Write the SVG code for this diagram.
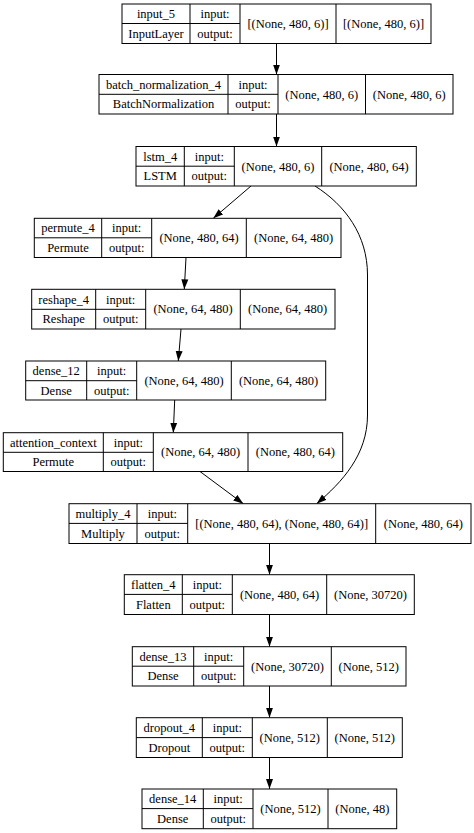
<svg xmlns="http://www.w3.org/2000/svg" width="474" height="833" viewBox="0 0 474 833">
<style>
.b{fill:#fff;stroke:#000;stroke-width:1}
.l{stroke:#000;stroke-width:1;fill:none}
text{font-family:"Liberation Serif","Times New Roman",serif;font-size:12.5px;fill:#000;text-anchor:middle}
.e{stroke:#000;stroke-width:1;fill:none;marker-end:url(#ah)}
</style>
<defs>
<marker id="ah" markerUnits="userSpaceOnUse" markerWidth="10" markerHeight="8" refX="10" refY="4" orient="auto">
<path d="M0,0.5 L10,4 L0,7.5 z" fill="#000"/>
</marker>
</defs>
<rect width="474" height="833" fill="#fff"/>
<g id="connectors">
<path class="e" d="M276.5,43.5 L276.5,74.5"/>
<path class="e" d="M276.5,114 L276.5,146.5"/>
<path class="e" d="M251,186 L213.3,218.3"/>
<path class="e" d="M186,257.5 L184.3,289.3"/>
<path class="e" d="M181,329 L178.3,361"/>
<path class="e" d="M174.7,400 L173.3,432.7"/>
<path class="e" d="M200,471.5 L243.3,503.7"/>
<path class="e" d="M315,186 C345,205 367.5,235 367.5,275 L367.5,415 C367.5,455 342,482 316.7,503.7"/>
<path class="e" d="M269.5,543.5 L269.5,574.7"/>
<path class="e" d="M269.5,614.5 L269.5,646.7"/>
<path class="e" d="M269.5,686 L269.5,717.7"/>
<path class="e" d="M269.5,757.5 L269.5,789"/>
</g>
<g id="input_5">
<rect class="b" x="122" y="4" width="309" height="39.5"/>
<path class="l" d="M190,4 V43.5 M240,4 V43.5 M336,4 V43.5 M122,23.5 H240"/>
<text x="156" y="18">input_5</text><text x="156" y="37.8">InputLayer</text>
<text x="215" y="18">input:</text><text x="215" y="37.8">output:</text>
<text x="288" y="28">[(None, 480, 6)]</text><text x="383.5" y="28">[(None, 480, 6)]</text>
</g>
<g id="batch_normalization_4">
<rect class="b" x="99" y="74.5" width="354" height="39.5"/>
<path class="l" d="M228,74.5 V114 M278,74.5 V114 M365.5,74.5 V114 M99,94.3 H278"/>
<text x="163.5" y="88.7">batch_normalization_4</text><text x="163.5" y="108.4">BatchNormalization</text>
<text x="253" y="88.7">input:</text><text x="253" y="108.4">output:</text>
<text x="321.8" y="98.6">(None, 480, 6)</text><text x="409.3" y="98.6">(None, 480, 6)</text>
</g>
<g id="lstm_4">
<rect class="b" x="136" y="146.5" width="280.3" height="39.5"/>
<path class="l" d="M184.3,146.5 V186 M234.3,146.5 V186 M321.7,146.5 V186 M136,166.2 H234.3"/>
<text x="160.2" y="160.7">lstm_4</text><text x="160.2" y="180.4">LSTM</text>
<text x="209.3" y="160.7">input:</text><text x="209.3" y="180.4">output:</text>
<text x="278" y="170.6">(None, 480, 6)</text><text x="369" y="170.6">(None, 480, 64)</text>
</g>
<g id="permute_4">
<rect class="b" x="34.3" y="218.3" width="306.7" height="39.2"/>
<path class="l" d="M101.7,218.3 V257.5 M151.7,218.3 V257.5 M246.3,218.3 V257.5 M34.3,237.8 H151.7"/>
<text x="68" y="232.3">permute_4</text><text x="68" y="252">Permute</text>
<text x="126.7" y="232.3">input:</text><text x="126.7" y="252">output:</text>
<text x="199" y="242.2">(None, 480, 64)</text><text x="293.7" y="242.2">(None, 64, 480)</text>
</g>
<g id="reshape_4">
<rect class="b" x="31.7" y="289.3" width="303.3" height="39.7"/>
<path class="l" d="M95.7,289.3 V329 M145.7,289.3 V329 M240.3,289.3 V329 M31.7,309.3 H145.7"/>
<text x="63.7" y="303.6">reshape_4</text><text x="63.7" y="323.4">Reshape</text>
<text x="120.7" y="303.6">input:</text><text x="120.7" y="323.4">output:</text>
<text x="193" y="313.4">(None, 64, 480)</text><text x="287.7" y="313.4">(None, 64, 480)</text>
</g>
<g id="dense_12">
<rect class="b" x="25.7" y="361" width="300" height="39"/>
<path class="l" d="M86.7,361 V400 M136.7,361 V400 M231.3,361 V400 M25.7,380.7 H136.7"/>
<text x="56.2" y="375.1">dense_12</text><text x="56.2" y="394.6">Dense</text>
<text x="111.7" y="375.1">input:</text><text x="111.7" y="394.6">output:</text>
<text x="184" y="384.8">(None, 64, 480)</text><text x="278.5" y="384.8">(None, 64, 480)</text>
</g>
<g id="attention_context">
<rect class="b" x="3.3" y="432.7" width="339.4" height="38.8"/>
<path class="l" d="M103.3,432.7 V471.5 M153.3,432.7 V471.5 M248,432.7 V471.5 M3.3,452.3 H153.3"/>
<text x="53.3" y="446.8">attention_context</text><text x="53.3" y="466.2">Permute</text>
<text x="128.3" y="446.8">input:</text><text x="128.3" y="466.2">output:</text>
<text x="200.7" y="456.4">(None, 64, 480)</text><text x="295.3" y="456.4">(None, 480, 64)</text>
</g>
<g id="multiply_4">
<rect class="b" x="69" y="503.7" width="402" height="39.8"/>
<path class="l" d="M137,503.7 V543.5 M187.7,503.7 V543.5 M375.7,503.7 V543.5 M69,523.4 H187.7"/>
<text x="103" y="517.9">multiply_4</text><text x="103" y="537.7">Multiply</text>
<text x="162.3" y="517.9">input:</text><text x="162.3" y="537.7">output:</text>
<text x="281.7" y="527.9">[(None, 480, 64), (None, 480, 64)]</text><text x="423.3" y="527.9">(None, 480, 64)</text>
</g>
<g id="flatten_4">
<rect class="b" x="124.3" y="574.7" width="290" height="39.8"/>
<path class="l" d="M182.3,574.7 V614.5 M232.3,574.7 V614.5 M326.7,574.7 V614.5 M124.3,594.4 H232.3"/>
<text x="153.3" y="588.9">flatten_4</text><text x="153.3" y="608.7">Flatten</text>
<text x="207.3" y="588.9">input:</text><text x="207.3" y="608.7">output:</text>
<text x="279.5" y="598.9">(None, 480, 64)</text><text x="370.5" y="598.9">(None, 30720)</text>
</g>
<g id="dense_13">
<rect class="b" x="132.3" y="646.7" width="273.7" height="39.3"/>
<path class="l" d="M193.7,646.7 V686 M243.7,646.7 V686 M331.3,646.7 V686 M132.3,666.2 H243.7"/>
<text x="163" y="660.8">dense_13</text><text x="163" y="680.4">Dense</text>
<text x="218.7" y="660.8">input:</text><text x="218.7" y="680.4">output:</text>
<text x="287.5" y="670.6">(None, 30720)</text><text x="368.7" y="670.6">(None, 512)</text>
</g>
<g id="dropout_4">
<rect class="b" x="136.3" y="717.7" width="266" height="39.8"/>
<path class="l" d="M202.3,717.7 V757.5 M252.3,717.7 V757.5 M327.3,717.7 V757.5 M136.3,737.6 H252.3"/>
<text x="169.3" y="731.9">dropout_4</text><text x="169.3" y="751.7">Dropout</text>
<text x="227.3" y="731.9">input:</text><text x="227.3" y="751.7">output:</text>
<text x="289.8" y="741.9">(None, 512)</text><text x="364.8" y="741.9">(None, 512)</text>
</g>
<g id="dense_14">
<rect class="b" x="142" y="789" width="254.7" height="39.7"/>
<path class="l" d="M203.3,789 V828.7 M253,789 V828.7 M328,789 V828.7 M142,808.6 H253"/>
<text x="172.7" y="803.1">dense_14</text><text x="172.7" y="822.9">Dense</text>
<text x="228.2" y="803.1">input:</text><text x="228.2" y="822.9">output:</text>
<text x="290.5" y="813">(None, 512)</text><text x="362.3" y="813">(None, 48)</text>
</g>
</svg>
